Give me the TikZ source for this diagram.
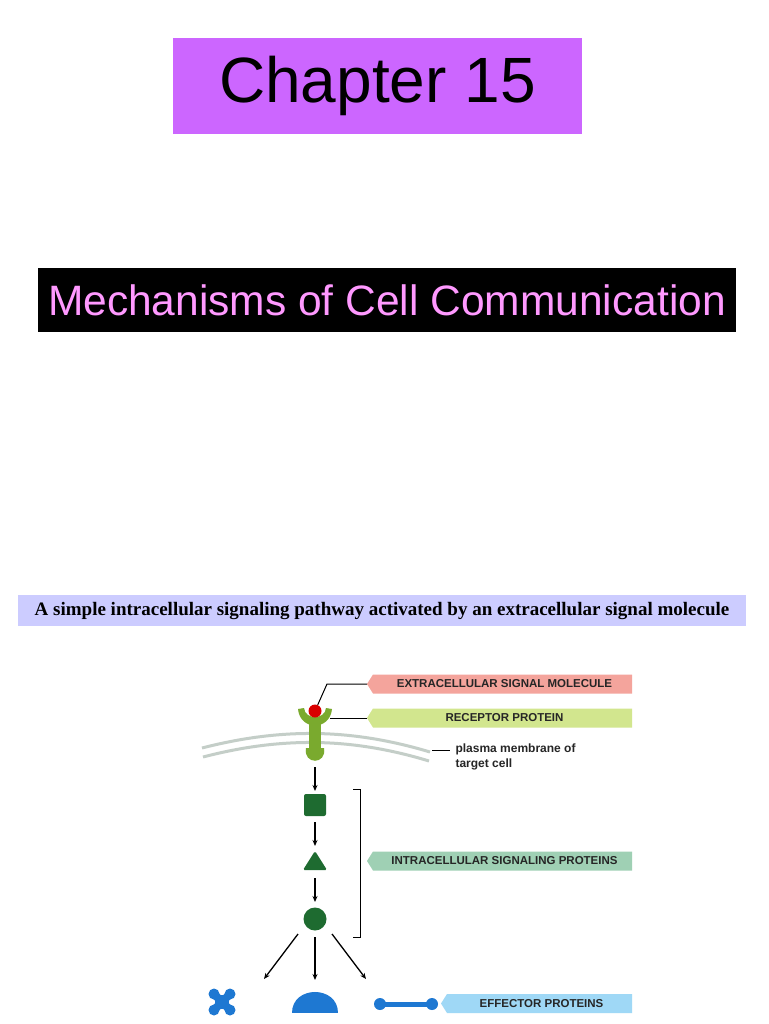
\documentclass[tikz,border=0pt]{standalone}
\usepackage{fontspec}
\setmainfont{Liberation Sans}
\newfontfamily\serifb{Liberation Serif}
\usetikzlibrary{arrows.meta}
\definecolor{purp}{HTML}{CC66FF}
\definecolor{pinkt}{HTML}{FF99FF}
\definecolor{lav}{HTML}{CCCCFF}
\definecolor{bred}{HTML}{F4A49C}
\definecolor{bgreen}{HTML}{D2E68E}
\definecolor{bteal}{HTML}{9FD0B4}
\definecolor{bblue}{HTML}{9FD8F6}
\definecolor{dg}{HTML}{1E6B30}
\definecolor{rg}{HTML}{7AAA2E}
\definecolor{eb}{HTML}{1E78D2}
\definecolor{mem}{HTML}{C4CEC8}
\tikzset{
 arr/.style={-{Stealth[length=6pt,width=5pt]},line width=1.3pt},
 lead/.style={line width=1pt}
}
\begin{document}
\begin{tikzpicture}[x=1pt,y=-1pt]
\useasboundingbox (0,0) rectangle (768,1024);
\fill[white] (0,0) rectangle (768,1024);
\node[fill=purp,minimum width=409pt,minimum height=96pt,inner sep=0pt,font=\fontsize{64}{68}\selectfont] (title) at (377.5,86) {Chapter 15};
\node[fill=black,text=pinkt,minimum width=698pt,minimum height=64pt,inner sep=0pt,font=\fontsize{42.5}{45}\selectfont] (sub) at (387,300) {Mechanisms of Cell Communication};
\node[fill=lav,minimum width=728pt,minimum height=31pt,inner sep=0pt,font=\serifb\bfseries\fontsize{19}{21}\selectfont] (cap) at (382,610.5) {A simple intracellular signaling pathway activated by an extracellular signal molecule};
% banners
\foreach \nm/\c/\xl/\yc/\t in {b1/bred/373/684/EXTRACELLULAR SIGNAL MOLECULE, b2/bgreen/373/718/RECEPTOR PROTEIN, b3/bteal/373/861/INTRACELLULAR SIGNALING PROTEINS, b4/bblue/447/1003.5/EFFECTOR PROTEINS}{
 \fill[\c] (\xl,\yc-9.5) -- (632,\yc-9.5) -- (632,\yc+9.5) -- (\xl,\yc+9.5) -- (\xl-6,\yc) -- cycle;
 \node[font=\bfseries\fontsize{11.5}{12}\selectfont,text=black!85] (\nm) at ({(\xl+632)/2+2},\yc) {\t};
}
% membrane
\draw[mem,line width=3pt] (202,748) .. controls (280,728) and (350,728) .. (430,752);
\draw[mem,line width=3pt] (203,757) .. controls (280,737) and (350,737) .. (429,761);
% receptor
\fill[rg] (309,722) rectangle (321,752);
\fill[rg] (306,748) .. controls (303,765) and (327,765) .. (324,748) -- cycle;
\fill[rg] (298,709) .. controls (300,731) and (330,731) .. (332,709) -- (326,708) .. controls (325,720) and (305,720) .. (304,708) -- cycle;
\node[circle,fill=red!85!black,minimum size=13pt,inner sep=0pt] (sig) at (315,711) {};
\coordinate (rcp) at (330,718);
\draw[lead] (sig) -- (327,684) -- (367,684);
\draw[lead] (rcp) -- (367,718);
\draw[lead] (432,750) -- (450,750);
\node[anchor=west,align=left,font=\bfseries\fontsize{12}{15}\selectfont,text=black!85] (pm) at (452,757) {plasma membrane of\\target cell};
% pathway
\coordinate (rb) at (315,767);
\node[fill=dg,rounded corners=2pt,minimum size=22pt,inner sep=0pt] (sq) at (315,805) {};
\fill[dg,rounded corners=1.5pt] (303,870) -- (315,851) -- (327,870) -- cycle;
\coordinate (tri) at (315,861);
\node[circle,fill=dg,minimum size=23pt,inner sep=0pt] (ci) at (315,919) {};
\draw[arr] (rb) -- (315,791);
\draw[arr] (315,822) -- (315,846);
\draw[arr] (315,878) -- (315,902);
\draw[lead] (353,789) -- (360,789) -- (360,937) -- (353,937);
\draw[arr] (298,934) -- (264,979);
\draw[arr] (315,937) -- (315,980);
\draw[arr] (332,934) -- (366,979);
% effectors
\fill[eb] (222,1002) circle (7);
\foreach \dx/\dy in {-8/-8,8/-8,-8/8,8/8}{\draw[eb,line width=8pt] (222,1002) -- ++(\dx,\dy); \fill[eb] (222+\dx,1002+\dy) circle (5.5);}
\fill[eb] (292,1013) .. controls (292,985) and (338,985) .. (338,1013) -- cycle;
\fill[eb] (380,1001.5) rectangle (432,1006.5);
\fill[eb] (380,1004) circle (6); \fill[eb] (432,1004) circle (6);
\end{tikzpicture}
\end{document}
